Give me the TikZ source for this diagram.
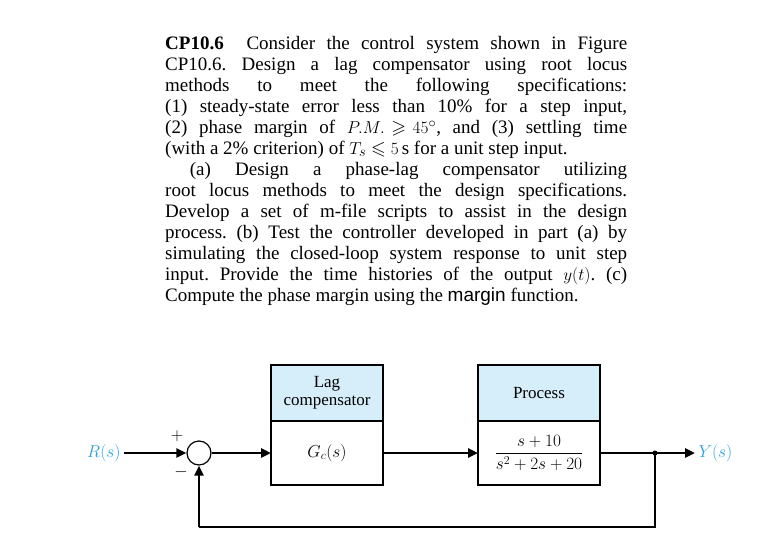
\documentclass[tikz,border=0pt]{standalone}
\usepackage{amsmath,amssymb}
\usepackage{fontspec}
\setmainfont{Liberation Serif}
\usetikzlibrary{arrows.meta}
\definecolor{lblue}{RGB}{214,238,250}
\definecolor{sigblue}{RGB}{40,160,220}
\begin{document}
\begin{tikzpicture}[x=1pt,y=-1pt,
  blk/.style={draw,line width=2pt},
  sig/.style={line width=2.6pt,-{Triangle[length=10pt,width=9pt]}},
  wire/.style={line width=2.6pt},
  lbl/.style={font=\fontsize{17}{19}\selectfont,align=center}]
\useasboundingbox (0,0) rectangle (780,557);
\node[anchor=north west,inner sep=0pt] (txt) at (165,36) {\parbox{462pt}{\fontsize{19}{21}\selectfont\frenchspacing\spaceskip=0.25em plus 1em minus 0.08em
\textbf{CP10.6}\ \ Consider the control system shown in Figure\linebreak
CP10.6. Design a lag compensator using root locus\linebreak
methods to meet the following specifications:\linebreak
(1) steady-state error less than 10\% for a step input,\linebreak
(2) phase margin of $P.M.\geqslant 45^\circ$, and (3) settling time\linebreak
(with a 2\% criterion) of $T_s\leqslant 5$\,s for a unit step input.\par
\hspace*{1.3em}(a) Design a phase-lag compensator utilizing\linebreak
root locus methods to meet the design specifications.\linebreak
Develop a set of m-file scripts to assist in the design\linebreak
process. (b) Test the controller developed in part (a) by\linebreak
simulating the closed-loop system response to unit step\linebreak
input. Provide the time histories of the output $y(t)$. (c)\linebreak
Compute the phase margin using the {\fontspec{Liberation Sans}margin} function.}};
% blocks
\fill[lblue] (271,365) rectangle (383,421);
\fill[lblue] (478,365) rectangle (600,421);
\draw[blk] (271,365) rectangle (383,485);
\draw[blk] (271,421) -- (383,421);
\draw[blk] (478,365) rectangle (600,485);
\draw[blk] (478,421) -- (600,421);
\node[lbl] (lagt) at (327,393) {Lag\\[-1pt]compensator};
\node[lbl] (proct) at (539,393) {Process};
\node[lbl] (gc) at (327,453) {$G_c(s)$};
\node[lbl] (gp) at (539,453) {$\dfrac{s+10}{s^2+2s+20}$};
\coordinate (lagin) at (271,453);
\coordinate (lagout) at (383,453);
\coordinate (pin) at (478,453);
\coordinate (pout) at (600,453);
\node[draw,circle,line width=1.2pt,minimum size=24pt,inner sep=0pt] (sum) at (199,453) {};
\node[lbl,text=sigblue,anchor=east] (R) at (124,453) {$R(s)$};
\node[lbl,text=sigblue,anchor=west] (Y) at (695,453) {$Y(s)$};
\coordinate (br) at (655,453);
\coordinate (fb1) at (655,527);
\coordinate (fb2) at (199,527);
\draw[sig] (R.east) -- (sum.west);
\draw[sig] (sum.east) -- (lagin);
\draw[sig] (lagout) -- (pin);
\draw[sig] (pout) -- (Y.west);
\fill (br) circle (2.5pt);
\draw[wire] (br) -- (fb1) -- (fb2);
\draw[sig] (fb2) -- (sum.south);
\node[lbl] (plus) at (177,436) {$+$};
\node[lbl] (minus) at (181,472) {$-$};
\end{tikzpicture}
\end{document}
